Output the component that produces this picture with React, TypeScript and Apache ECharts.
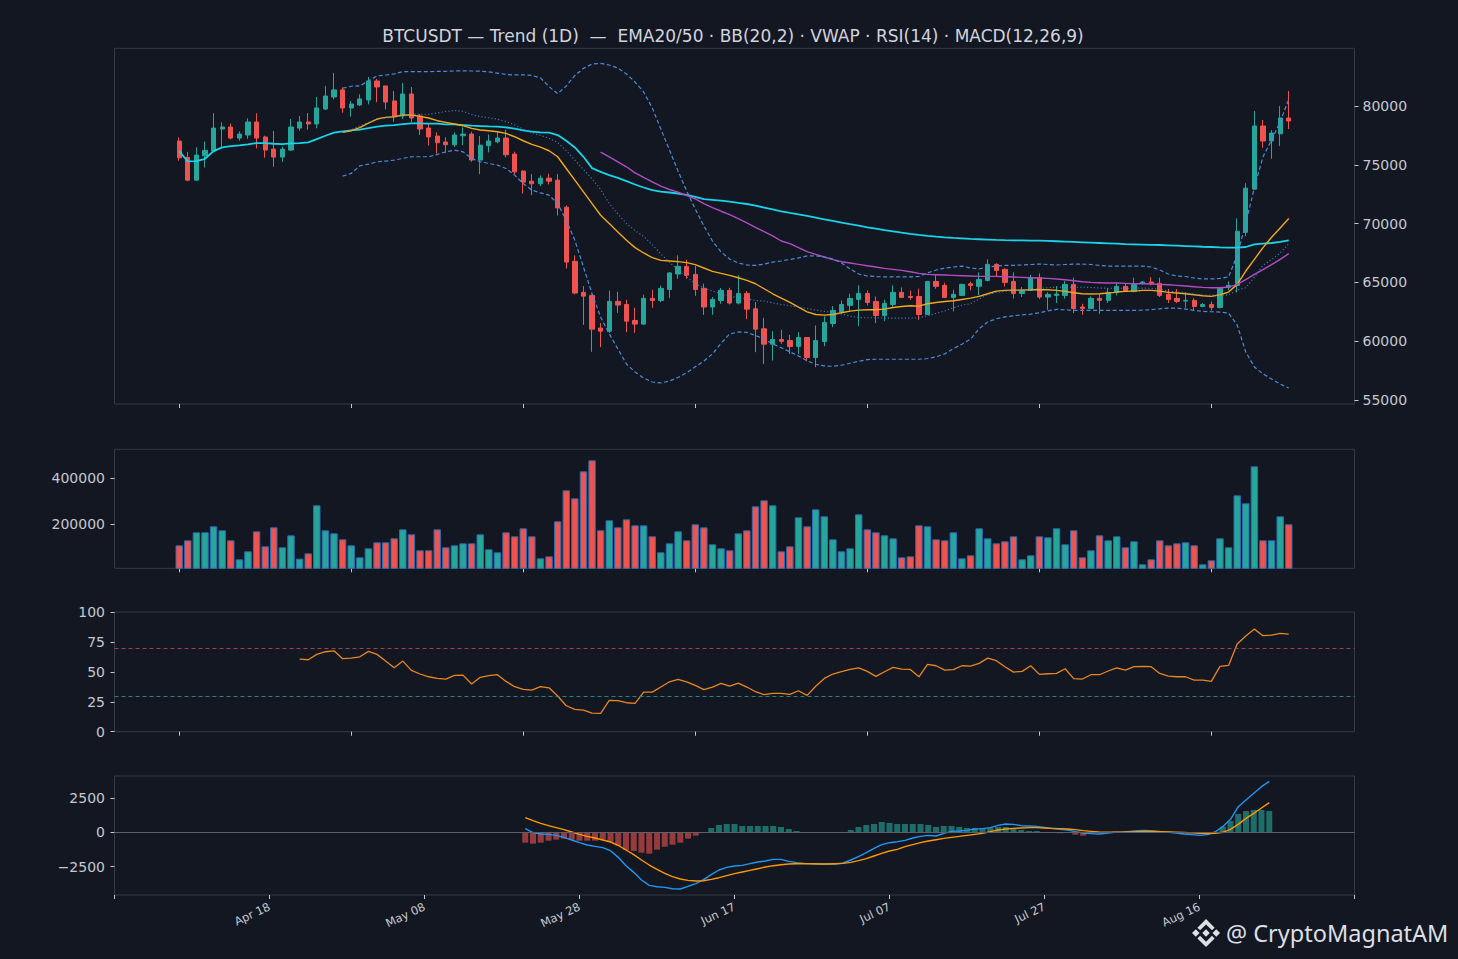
import React, { useEffect, useRef } from "react";
import * as echarts from "echarts";

// ---------- data (index 0 = Apr 18, one candle per day) ----------
const openP = [
  77015, 75620, 73690, 75760, 76160, 78040, 78210, 77270, 77530, 78640,
  77360, 76330, 75650, 76250, 78120, 78640, 78470, 79740, 80770, 81370,
  79830, 80090, 80510, 82130, 81710, 80430, 79150, 81020, 79150, 78120,
  77440, 76930, 76700, 77470, 77610, 75400, 76620, 76960, 77270, 75910,
  74460, 73600, 73380, 73860, 73690, 71390, 66780, 64140, 63880, 61100,
  60840, 63370, 63110, 61750, 61440, 63630, 63450, 64390, 65700, 66350,
  65670, 64480, 62890, 63450, 64310, 63230, 64050, 62740, 61040, 59730,
  60130, 60040, 59530, 60300, 58590, 59960, 61490, 62510, 63030, 63540,
  64050, 63370, 62170, 63110, 64140, 63790, 63790, 62260, 65070, 64730,
  63710, 63880, 64870, 64650, 65160, 66520, 66100, 65070, 64050, 64310,
  65390, 63740, 63880, 63880, 64820, 62890, 62770, 63630, 63460, 64140,
  64650, 64220, 64900, 65020, 64900, 63970, 63630, 63400, 63460, 62940,
  63110, 62860, 64560, 64730, 69250, 72920, 78300, 77020, 77630, 78980,
];
const closeP = [
  75590, 73690, 75820, 76220, 78120, 78210, 77270, 77610, 78640, 77270,
  76250, 75650, 76330, 78210, 78640, 78470, 79830, 80850, 81370, 79830,
  80170, 80600, 82130, 81620, 80340, 79150, 81020, 78980, 78040, 77370,
  76870, 76700, 77530, 77610, 75400, 76670, 77020, 77270, 75850, 74400,
  73520, 73380, 73860, 73600, 71330, 66720, 64080, 63820, 61010, 60840,
  63370, 63060, 61690, 61440, 63630, 63450, 64480, 65790, 66350, 65590,
  64390, 62890, 63540, 64310, 63230, 64040, 62710, 61010, 59730, 60130,
  59980, 59530, 60300, 58590, 60040, 61580, 62600, 63110, 63620, 64050,
  63280, 62170, 63200, 64140, 63710, 63710, 62260, 65070, 64650, 63710,
  63970, 64820, 64730, 65240, 66520, 66010, 64990, 64050, 64310, 65410,
  63740, 63970, 64000, 64820, 62770, 62770, 63630, 63460, 64140, 64650,
  64220, 64820, 65020, 64900, 63880, 63540, 63370, 63460, 62940, 63110,
  62860, 64480, 64730, 69340, 73010, 78300, 77020, 77700, 78980, 78720,
];
const highP = [
  77330, 76100, 76480, 76960, 79380, 78610, 78490, 77840, 78950, 79380,
  77470, 77870, 76530, 78890, 79150, 79400, 80770, 81710, 82820, 81590,
  80430, 81000, 82470, 82300, 81710, 81280, 81960, 81620, 79320, 78470,
  77750, 77330, 77750, 78180, 77810, 77440, 77580, 77780, 77980, 76110,
  74540, 74200, 74090, 74230, 74200, 71530, 67290, 64680, 63970, 61520,
  64280, 64190, 63510, 62830, 63940, 64360, 64710, 65870, 67290, 66920,
  66380, 64880, 63740, 64510, 64530, 65590, 64250, 63310, 61970, 60840,
  60950, 60520, 60750, 60300, 61320, 62090, 62970, 63450, 64020, 64730,
  64310, 63790, 63510, 64730, 64560, 64310, 64450, 65070, 65590, 64960,
  64360, 64870, 65050, 65840, 66950, 66610, 66180, 65840, 64590, 65640,
  65760, 64140, 64680, 65100, 65390, 63170, 63800, 63970, 64510, 65020,
  64880, 65390, 65100, 65450, 65390, 64420, 64420, 64140, 63630, 63230,
  63370, 64560, 65080, 70450, 73430, 79570, 78810, 77950, 79990, 81280,
];
const lowP = [
  75340, 73600, 73630, 74770, 76100, 76530, 77160, 77040, 77210, 76390,
  75590, 74830, 75250, 76160, 77900, 77980, 78100, 79660, 80570, 79430,
  79090, 80000, 80140, 80310, 79720, 78660, 78890, 78640, 77530, 76640,
  75960, 76020, 76530, 76670, 75250, 74200, 76050, 76820, 75620, 74200,
  72550, 72410, 73180, 73320, 70680, 66160, 63970, 61380, 59080, 59470,
  60700, 62400, 60750, 60700, 61380, 62830, 63310, 63650, 65300, 65300,
  63850, 62230, 62230, 63170, 63110, 63110, 61860, 59050, 58050, 58340,
  59760, 58900, 58900, 58280, 57770, 59560, 61180, 62320, 62510, 61260,
  63030, 61520, 61690, 62910, 63650, 63510, 61800, 62260, 64450, 63650,
  62510, 63880, 64310, 63880, 65070, 65440, 64650, 63620, 63740, 64310,
  63570, 62660, 63230, 63600, 62370, 62230, 62770, 62320, 63230, 63880,
  64220, 64140, 64820, 64730, 63740, 63230, 63230, 62830, 62600, 62890,
  62600, 62770, 64310, 64140, 68910, 72920, 76450, 75510, 76590, 78040,
];
const volume = [
  108600, 130300, 165100, 165100, 191200, 173800, 130300, 47700, 82500, 169400,
  104200, 186800, 99900, 152000, 50600, 73800, 282500, 173800, 160700, 134600,
  108600, 56400, 95500, 121600, 121600, 139000, 178100, 156400, 86800, 86800,
  178100, 99900, 108600, 117300, 117300, 156400, 91200, 78100, 165100, 147700,
  182500, 147700, 52000, 60700, 212900, 347700, 312900, 430300, 478100, 173800,
  217300, 186800, 221600, 195500, 195500, 147700, 78100, 117300, 169400, 130300,
  200000, 186800, 112900, 95500, 86800, 160700, 173800, 278100, 304200, 282500,
  82500, 104200, 230300, 191200, 265100, 234700, 134600, 82500, 95500, 243300,
  178100, 165100, 152000, 139000, 56400, 60700, 195500, 191200, 134600, 130300,
  165100, 52000, 65100, 182500, 139000, 117300, 126000, 147700, 47700, 65100,
  147700, 143300, 182500, 112900, 173800, 56400, 86800, 152000, 130300, 147700,
  99900, 126000, 26000, 47700, 130300, 108600, 117300, 121600, 108600, 26000,
  43400, 139000, 99900, 326000, 291200, 452000, 130300, 130300, 234700, 200000,
];
const vwap = [
  76162, 75280, 75310, 75509, 76162, 76475, 76589, 76646, 76731, 76845,
  76845, 76788, 76760, 76817, 76845, 76902, 77186, 77470, 77726, 77840,
  77925, 77982, 78124, 78238, 78323, 78380, 78465, 78522, 78522, 78493,
  78493, 78437, 78437, 78380, 78323, 78295, 78266, 78238, 78181, 78067,
  77925, 77811, 77754, 77726, 77527, 77043, 76475, 75679, 74712, 74400,
  74115, 73888, 73603, 73319, 73063, 72836, 72722, 72637, 72552, 72438,
  72267, 72068, 72011, 71954, 71869, 71756, 71660, 71520, 71360, 71200,
  71040, 70900, 70780, 70640, 70500, 70360, 70220, 70080, 69940, 69810,
  69680, 69560, 69440, 69330, 69220, 69120, 69030, 68950, 68880, 68820,
  68770, 68730, 68690, 68660, 68630, 68600, 68580, 68570, 68560, 68550,
  68540, 68520, 68490, 68460, 68430, 68400, 68370, 68340, 68310, 68280,
  68250, 68230, 68210, 68190, 68170, 68140, 68110, 68080, 68050, 68020,
  68000, 67970, 67950, 67950, 68000, 68230, 68290, 68340, 68430, 68570,
];
const ema20Start = 19;
const ema20 = [
  77755, 77897, 78152, 78550, 78891, 79034, 79090, 79233, 79233, 79119, 78977,
  78749, 78607, 78465, 78323, 78095, 77954, 77897, 77811, 77669, 77385,
  77043, 76731, 76503, 76191, 75679, 74684, 73689, 72694, 71699, 70703,
  69993, 69282, 68571, 67946, 67491, 67093, 66866, 66809, 66752, 66667,
  66496, 66212, 65928, 65757, 65587, 65387, 65158, 64874, 64448, 64021,
  63652, 63282, 62884, 62486, 62259, 62202, 62259, 62401, 62543, 62628,
  62657, 62657, 62713, 62856, 62941, 62998, 62969, 63168, 63282, 63367,
  63424, 63538, 63652, 63794, 64021, 64249, 64306, 64334, 64334, 64363,
  64363, 64364, 64307, 64222, 64108, 64023, 63995, 64023, 64080, 64165,
  64222, 64250, 64307, 64307, 64250, 64136, 64080, 64023, 63938, 63852,
  63795, 63938, 64165, 64819, 65956, 66951, 67946, 68827, 69623, 70420,
];
const ema50Start = 49;
const ema50 = [
  76077,
  75679, 75253, 74826, 74314, 73916, 73547, 73177, 72893, 72665, 72381,
  72096, 71699, 71357, 71045, 70760, 70419, 70050, 69680, 69310, 68950,
  68513, 68286, 67945, 67603, 67376, 67148, 66921, 66751, 66637, 66523,
  66409, 66296, 66182, 66097, 66011, 65898, 65755, 65670, 65642, 65613,
  65585, 65557, 65528, 65500, 65500, 65500, 65471, 65443, 65414, 65386,
  65358, 65331, 65275, 65218, 65133, 65047, 64990, 64962, 64933, 64933,
  64905, 64876, 64876, 64848, 64819, 64791, 64734, 64677, 64620, 64563,
  64535, 64535, 64592, 64819, 65218, 65672, 66070, 66496, 66951, 67434,
];
const bbStart = 19;
const bbUpper = [
  81510, 81680, 81710, 82130, 82560, 82640, 82730, 82930, 82930, 82930, 82930,
  82940, 82950, 82980, 82990, 82980, 82960, 82900, 82800, 82680, 82640,
  82650, 82600, 82400, 81650, 81050, 81700, 82600, 83200, 83570, 83620,
  83490, 83230, 82720, 82040, 81190, 79830, 78040, 76260, 74470, 72770,
  71230, 69790, 68510, 67580, 66980, 66640, 66470, 66430, 66550, 66720,
  66810, 66940, 67070, 67240, 67240, 67150, 66980, 66640, 66130, 65700,
  65530, 65490, 65450, 65450, 65450, 65450, 65490, 65790, 66040, 66210,
  66300, 66380, 66210, 66130, 66300, 66380, 66430, 66440, 66470, 66510,
  66550, 66510, 66470, 66510, 66550, 66550, 66510, 66430, 66380, 66380,
  66380, 66380, 66380, 66300, 66040, 65700, 65530, 65490, 65360, 65280,
  65280, 65320, 65450, 67290, 69990, 73060, 75680, 77100, 78660, 80570,
];
const bbMid = [
  77770, 77970, 78310, 78590, 78900, 78980, 79060, 79230, 79300, 79300, 79300,
  79400, 79530, 79610, 79550, 79260, 79100, 79000, 78880, 78680, 78380,
  78030, 77720, 77500, 77250, 76900, 76200, 75400, 74600, 73800, 72900,
  71700, 70800, 70000, 69400, 68900, 68200, 67400, 66700, 66050, 65450,
  64900, 64500, 64250, 64000, 63800, 63680, 63600, 63450, 63400, 63240,
  63110, 63000, 62900, 62770, 62630, 62520, 62420, 62300, 62120, 61990,
  61980, 61970, 61950, 61950, 61950, 61950, 61970, 62150, 62340, 62560,
  62830, 63050, 63180, 63580, 63970, 64130, 64240, 64290, 64350, 64400,
  64470, 64540, 64580, 64580, 64575, 64575, 64555, 64510, 64490, 64490,
  64490, 64490, 64505, 64480, 64390, 64250, 64165, 64100, 63980, 63900,
  63880, 63890, 63910, 64330, 64530, 65430, 66440, 66940, 67500, 68290,
];
const bbLower = [
  74030, 74260, 74910, 75050, 75250, 75310, 75400, 75540, 75680, 75680, 75680,
  75880, 76100, 76250, 76100, 75540, 75250, 75110, 74970, 74680, 74120,
  73400, 72840, 72610, 72410, 71700, 70280, 68570, 66300, 64020, 62030,
  60610, 59330, 58040, 57360, 56850, 56510, 56430, 56600, 56900, 57300,
  57800, 58300, 58900, 59800, 60600, 60770, 60730, 60470, 60180, 59760,
  59420, 59080, 58730, 58310, 58020, 57880, 57850, 57940, 58110, 58280,
  58420, 58450, 58450, 58450, 58450, 58450, 58450, 58510, 58650, 58900,
  59360, 59730, 60160, 61040, 61630, 61890, 62060, 62150, 62230, 62290,
  62400, 62570, 62690, 62660, 62600, 62600, 62600, 62600, 62600, 62600,
  62600, 62600, 62630, 62660, 62740, 62800, 62800, 62720, 62600, 62520,
  62490, 62460, 62370, 61360, 59070, 57790, 57200, 56770, 56340, 56000,
];
const rsiStart = 14;
const rsi = [
  60.7, 60.1, 64.6, 66.8, 67.6, 61.0,
  61.5, 62.6, 67.1, 64.6, 59.0, 53.4, 59.0, 51.2, 48.2, 45.9,
  44.5, 44.0, 47.0, 47.3, 39.8, 45.4, 46.8, 47.6, 42.0, 37.6,
  35.3, 34.8, 37.6, 36.7, 29.8, 21.7, 18.6, 18.1, 15.6, 15.3,
  26.2, 25.9, 24.2, 23.6, 33.1, 33.1, 37.3, 41.7, 43.7, 41.7,
  38.7, 35.1, 37.3, 40.4, 38.1, 40.6, 37.3, 33.4, 30.9, 32.0,
  32.0, 31.2, 34.2, 30.3, 38.0, 44.5, 48.2, 50.1, 52.0, 53.4,
  50.4, 46.2, 50.1, 53.7, 52.3, 52.0, 45.9, 56.2, 55.1, 51.5,
  51.8, 55.1, 54.8, 57.1, 61.5, 59.3, 54.3, 49.8, 50.4, 55.1,
  47.9, 48.4, 48.7, 52.6, 44.3, 44.0, 47.6, 47.6, 50.7, 53.4,
  51.5, 54.3, 54.6, 54.3, 48.7, 46.5, 45.9, 45.9, 43.1, 43.1,
  42.0, 54.6, 55.4, 73.2, 79.9, 85.7, 80.2, 80.7, 82.1, 81.6,
];
const macdStart = 33;
const macdLine = [
  265, -28, -125, -149, -222, -369, -564, -759, -929, -1027,
  -1124, -1344, -1831, -2440, -2928, -3488, -3878, -3976, -4024, -4122,
  -4146, -3951, -3756, -3464, -3098, -2757, -2562, -2464, -2416, -2294,
  -2172, -2099, -1977, -1977, -2123, -2221, -2270, -2294, -2318, -2318,
  -2318, -2245, -2026, -1782, -1490, -1173, -905, -759, -686, -588,
  -418, -296, -222, -271, -76, 70, 94, 143, 240, 265,
  338, 508, 606, 582, 484, 460, 435, 362, 265, 216,
  167, 45, -49, -98, -122, -73, 0, 21, 70, 119,
  143, 94, 45, 0, -49, -122, -171, -222, -171, 21,
  410, 947, 1873, 2361, 2848, 3336, 3725,
];
const macdSignal = [
  1069, 850, 655, 484, 338, 192, 21, -149, -296, -418,
  -564, -710, -954, -1295, -1636, -2026, -2392, -2708, -3001, -3244,
  -3415, -3513, -3561, -3537, -3440, -3318, -3171, -3025, -2903, -2781,
  -2660, -2538, -2440, -2367, -2318, -2294, -2294, -2294, -2318, -2318,
  -2294, -2270, -2197, -2075, -1928, -1733, -1538, -1368, -1246, -1051,
  -905, -759, -637, -540, -442, -369, -296, -222, -149, -76,
  45, 170, 240, 289, 313, 338, 338, 313, 289, 265,
  240, 192, 119, 70, 21, 0, 0, 0, 20, 40,
  60, 60, 40, 20, 0, -20, -40, -70, -100, -70,
  0, 216, 582, 1020, 1386, 1776, 2166,
];
const macdHist = [
  -759, -832, -759, -613, -540, -466, -540, -613, -613, -613,
  -540, -686, -978, -1295, -1368, -1490, -1563, -1270, -1051, -905,
  -759, -466, -247, 0, 313, 533, 606, 606, 460, 460,
  460, 460, 460, 390, 244, 97, 20, -24, -24, 0,
  -24, 0, 170, 390, 533, 606, 752, 679, 606, 606,
  606, 606, 533, 390, 460, 460, 390, 317, 317, 317,
  317, 390, 390, 317, 170, 97, 97, 0, -24, -73,
  -24, -170, -247, -125, -49, 0, 0, 0, 0, 0,
  0, 0, 0, 0, 0, 0, 0, -50, -50, 0,
  410, 825, 1337, 1556, 1630, 1630, 1556,
];
const dateTickLabels = ["Apr 18", "May 08", "May 28", "Jun 17", "Jul 07", "Jul 27", "Aug 16"];
const priceTicks = [55000, 60000, 65000, 70000, 75000, 80000];
const volumeTicks = [200000, 400000];
const macdTicks = [-2500, 0, 2500];
const indexTicks = [0, 20, 40, 60, 80, 100, 120];

const TITLE = "BTCUSDT \u2014 Trend (1D)  \u2014  EMA20/50 \u00b7 BB(20,2) \u00b7 VWAP \u00b7 RSI(14) \u00b7 MACD(12,26,9)";
const WATERMARK = "@ CryptoMagnatAM";
const LOGO_D =
  "M16 12.5 L19.5 16 L16 19.5 L12.5 16 Z M6.5 12.5 L10 16 L6.5 19.5 L3 16 Z M25.5 12.5 L29 16 L25.5 19.5 L22 16 Z M16 3 L24 11 L21.5 13.5 L16 8 L10.5 13.5 L8 11 Z M16 29 L24 21 L21.5 18.5 L16 24 L10.5 18.5 L8 21 Z";

const UP = "#26a69a";
const DOWN = "#ef5350";
const BG = "#131722";
const FRAME = "#363a45";
const TXT = "#c5c8d0";
const TICK = "#c5c8d0";
const FONT = "DejaVu Sans";

const seg = (start: number, vals: number[]) => vals.map((v, k) => [start + k, v]);
const plain = (v: number) => (v < 0 ? "\u2212" + Math.abs(v) : String(v));

export default function App() {
  const ref = useRef<HTMLDivElement>(null);
  useEffect(() => {
    if (!ref.current) return;
    echarts.graphic.registerShape("logo", echarts.graphic.extendPath(LOGO_D, {}) as any);
    const chart = echarts.init(ref.current, null, { renderer: "svg" });

    const candles = openP.map((o, i) => [i, o, closeP[i], lowP[i], highP[i]]);
    const volBars = volume.map((v, i) => ({
      value: [i, v],
      itemStyle: { color: closeP[i] >= openP[i] ? UP : DOWN },
    }));
    const histBars = macdHist.map((v, k) => ({
      value: [macdStart + k, v],
      itemStyle: { color: v >= 0 ? "rgba(38,166,154,0.6)" : "rgba(239,83,80,0.6)" },
    }));

    const gridBase = { left: 114.5, right: 103.5, show: true, borderColor: FRAME, borderWidth: 1, backgroundColor: "transparent" };
    const grids = [
      { ...gridBase, top: 48.3, height: 355.7 },
      { ...gridBase, top: 449.3, height: 119 },
      { ...gridBase, top: 612, height: 119.7 },
      { ...gridBase, top: 776, height: 119 },
    ];
    const noLine = { show: false, onZero: false };
    const topX = (g: number) => ({
      type: "value",
      gridIndex: g,
      position: "bottom",
      min: -7.52,
      max: 136.64,
      axisLine: noLine,
      axisTick: { show: true, customValues: indexTicks, length: 4, lineStyle: { color: TICK } },
      axisLabel: { show: false },
      splitLine: { show: false },
    });
    const yAx = (g: number, min: number, max: number, ticks: number[] | null, pos: string) => {
      const margin = pos === "right" ? 8 : 9.5;
      return {
        type: "value",
        gridIndex: g,
        position: pos,
        min,
        max,
        ...(ticks ? {} : { interval: 25 }),
        axisLine: noLine,
        splitLine: { show: false },
        axisTick: ticks
          ? { show: true, length: 4, customValues: ticks, lineStyle: { color: TICK } }
          : { show: true, length: 4, lineStyle: { color: TICK } },
        axisLabel: ticks
          ? { color: TXT, fontSize: 14, fontFamily: FONT, margin, customValues: ticks, formatter: plain }
          : { color: TXT, fontSize: 14, fontFamily: FONT, margin, formatter: plain },
      };
    };

    const line = (name: string, data: number[][], color: string, width: number, type: any = "solid", opacity = 1) => ({
      name,
      type: "line",
      xAxisIndex: 0,
      yAxisIndex: 0,
      data,
      showSymbol: false,
      silent: true,
      z: 3,
      lineStyle: { color, width, type, opacity },
    });

    const option: any = {
      animation: false,
      backgroundColor: BG,
      textStyle: { fontFamily: FONT },
      grid: grids,
      xAxis: [
        topX(0),
        topX(1),
        topX(2),
        {
          type: "value",
          gridIndex: 3,
          position: "bottom",
          min: -20,
          max: 140,
          interval: 20,
          axisLine: noLine,
          splitLine: { show: false },
          axisTick: { show: true, length: 4, lineStyle: { color: TICK } },
          axisLabel: {
            color: TXT,
            fontSize: 11.5,
            fontFamily: FONT,
            rotate: 25,
            margin: 11,
            showMinLabel: true,
            showMaxLabel: true,
            formatter: (v: number) => (v >= 0 && v <= 120 && v % 20 === 0 ? dateTickLabels[v / 20] : ""),
          },
        },
      ],
      yAxis: [
        yAx(0, 54640, 84910, priceTicks, "right"),
        yAx(1, 8700, 526100, volumeTicks, "left"),
        yAx(2, 0, 100, null, "left"),
        yAx(3, -4583, 4115, macdTicks, "left"),
      ],
      graphic: [
        {
          type: "text",
          x: 733,
          y: 36,
          style: {
            text: TITLE,
            fill: "#d1d4dc",
            font: `17px "${FONT}"`,
            textAlign: "center",
            textVerticalAlign: "middle",
          },
        },
        {
          type: "logo",
          x: 1188.8,
          y: 915.8,
          scaleX: 1.077,
          scaleY: 1.077,
          style: { fill: "#dcdfe4" },
        },
        {
          type: "text",
          x: 1226,
          y: 933,
          style: {
            text: WATERMARK,
            fill: "#dcdfe4",
            font: '23.5px "Noto Sans"',
            textAlign: "left",
            textVerticalAlign: "middle",
          },
        },
      ],
      series: [
        {
          name: "BTCUSDT",
          type: "candlestick",
          xAxisIndex: 0,
          yAxisIndex: 0,
          data: candles,
          encode: { x: 0, y: [1, 2, 3, 4] },
          barWidth: 4.8,
          silent: true,
          z: 2,
          itemStyle: { color: UP, color0: DOWN, borderColor: UP, borderColor0: DOWN, borderWidth: 1 },
        },
        line("VWAP", seg(0, vwap), "#19d3ea", 1.8),
        line("EMA20", seg(ema20Start, ema20), "#f0a81a", 1.4),
        line("EMA50", seg(ema50Start, ema50), "#b04cc4", 1.4),
        line("BB upper", seg(bbStart, bbUpper), "#4d8ad8", 1.2, [4, 2.5]),
        line("BB mid", seg(bbStart, bbMid), "#4d8ad8", 1.1, [1.2, 2.2], 0.85),
        line("BB lower", seg(bbStart, bbLower), "#4d8ad8", 1.2, [4, 2.5]),
        {
          name: "Volume",
          type: "bar",
          xAxisIndex: 1,
          yAxisIndex: 1,
          data: volBars,
          barWidth: 7.4,
          clip: true,
          silent: true,
          itemStyle: { borderColor: "#2d6db2", borderWidth: 1 },
        },
        {
          name: "RSI",
          type: "line",
          xAxisIndex: 2,
          yAxisIndex: 2,
          data: seg(rsiStart, rsi),
          showSymbol: false,
          silent: true,
          lineStyle: { color: "#e8861f", width: 1.3 },
          markLine: {
            silent: true,
            symbol: "none",
            label: { show: false },
            data: [
              { yAxis: 70, lineStyle: { color: "#b04555", width: 1, type: [4, 3], opacity: 0.9 } },
              { yAxis: 30, lineStyle: { color: "#2a8f8a", width: 1, type: [4, 3], opacity: 0.9 } },
            ],
          },
        },
        {
          name: "Hist",
          type: "bar",
          xAxisIndex: 3,
          yAxisIndex: 3,
          data: histBars,
          barWidth: 6,
          silent: true,
          markLine: {
            silent: true,
            symbol: "none",
            label: { show: false },
            data: [{ yAxis: 0, lineStyle: { color: "#5c606b", width: 1.2, type: "solid" } }],
          },
        },
        {
          name: "MACD",
          type: "line",
          xAxisIndex: 3,
          yAxisIndex: 3,
          data: seg(macdStart, macdLine),
          showSymbol: false,
          silent: true,
          lineStyle: { color: "#2196f3", width: 1.4 },
        },
        {
          name: "Signal",
          type: "line",
          xAxisIndex: 3,
          yAxisIndex: 3,
          data: seg(macdStart, macdSignal),
          showSymbol: false,
          silent: true,
          lineStyle: { color: "#ff9800", width: 1.4 },
        },
      ],
    };
    chart.setOption(option);
    return () => chart.dispose();
  }, []);
  return (
    <div
      ref={ref}
      style={{ position: "fixed", left: 0, top: 0, width: 1458, height: 959, background: BG }}
    />
  );
}
